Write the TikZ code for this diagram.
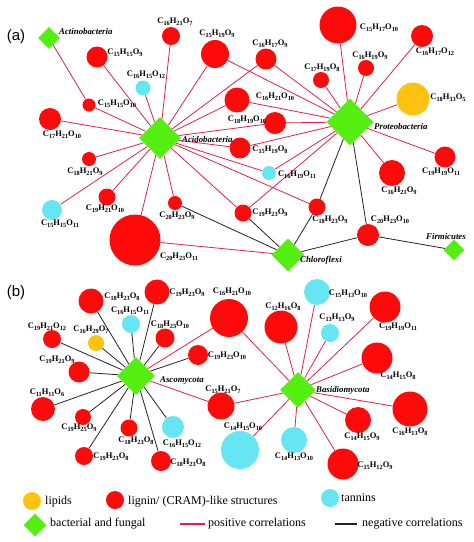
\documentclass[tikz,border=0pt]{standalone}
\usepackage{fontspec}
\setmainfont{Liberation Serif}
\newfontfamily\sansf{Liberation Sans}
\usetikzlibrary{shapes.geometric,backgrounds}
\definecolor{cred}{HTML}{FF0A0A}
\definecolor{ered}{HTML}{E0204A}
\definecolor{cgreen}{HTML}{55EE11}
\definecolor{ccyan}{HTML}{66E6F2}
\definecolor{corange}{HTML}{FFC20E}
\definecolor{eblack}{HTML}{222222}
\newcommand\subn[1]{\raisebox{-0.22em}{\fontsize{6.3}{7}\selectfont#1}}
\newcommand\cf[3]{C\subn{#1}H\subn{#2}O\subn{#3}}
\newcommand\mol[6]{\node[molc,fill=#4,minimum size=#3pt] (#1) at (#2) {};\node[lbl] at (#5) {\cf#6};}
\tikzset{
  molc/.style={circle,inner sep=0,draw=none},
  dia/.style={diamond,aspect=1,fill=cgreen,inner sep=0,draw=none},
  lbl/.style={font=\bfseries\fontsize{8.5}{9}\selectfont,inner sep=0},
  tax/.style={font=\bfseries\itshape\fontsize{8.8}{9}\selectfont,inner sep=0,anchor=west},
  leg/.style={font=\fontsize{12}{14}\selectfont,inner sep=0,anchor=west},
  pe/.style={ered,line width=0.8pt},
  ne/.style={eblack,line width=0.8pt},
  panel/.style={font=\sansf\fontsize{15}{16}\selectfont,inner sep=0}
}
\begin{document}
\begin{tikzpicture}[x=1pt,y=-1pt]
\useasboundingbox (0,0) rectangle (474,542);
\node[panel] (pa) at (16,37) {(a)};
\node[panel] (pb) at (16,293) {(b)};
% ---------- (a) taxa
\node[dia,minimum size=22pt] (actino) at (49,38) {};
\node[tax] (tactino) at (59,31) {Actinobacteria};
\node[dia,minimum size=42pt] (acido) at (160,138) {};
\node[tax] (tacido) at (182,139) {Acidobacteria};
\node[dia,minimum size=47pt] (proteo) at (350,122) {};
\node[tax] (tproteo) at (374,126) {Proteobacteria};
\node[dia,minimum size=33pt] (chloro) at (288,255) {};
\node[tax] (tchloro) at (300,260) {Chloroflexi};
\node[dia,minimum size=21pt] (firmi) at (454,250) {};
\node[tax,anchor=center] (tfirmi) at (446,236) {Firmicutes};
% ---------- (a) molecules
\mol{a1}{171,36}{18}{cred}{175,22}{{16}{21}{7}}
\mol{a2}{97,57}{21}{cred}{125,53}{{15}{15}{9}}
\mol{a3}{143,88}{15}{ccyan}{146,75}{{16}{15}{12}}
\mol{a4}{89,105}{13}{cred}{117,104}{{15}{15}{10}}
\mol{a5}{50,119}{22}{cred}{62,135}{{17}{21}{10}}
\mol{a6}{215,54}{28}{cred}{217,34}{{15}{19}{9}}
\mol{a7}{266,59}{21}{cred}{270,44}{{16}{17}{9}}
\mol{a8}{338,25}{37}{cred}{379,28}{{15}{17}{10}}
\mol{a9}{422,36}{22}{cred}{435,52}{{16}{17}{12}}
\mol{a10}{366,68}{16}{cred}{370,56}{{16}{19}{9}}
\mol{a11}{321,80}{16}{cred}{322,68}{{17}{19}{8}}
\mol{a12}{413,99}{33}{corange}{448,98}{{18}{33}{5}}
\mol{a13}{237,100}{25}{cred}{275,97}{{16}{21}{10}}
\mol{a14}{275,123}{22}{cred}{247,120}{{18}{19}{10}}
\mol{a15}{240,148}{21}{cred}{270,150}{{15}{19}{8}}
\mol{a16}{269,173}{14}{ccyan}{297,175}{{16}{19}{11}}
\mol{a17}{445,157}{21}{cred}{441,172}{{19}{19}{11}}
\mol{a18}{392,173}{26}{cred}{399,191}{{16}{21}{9}}
\mol{a19}{243,213}{17}{cred}{270,213}{{19}{23}{9}}
\mol{a20}{317,207}{17}{cred}{330,220}{{18}{23}{9}}
\mol{a21}{368,235}{22}{cred}{390,220}{{20}{23}{10}}
\mol{a22}{89,159}{14}{cred}{85,172}{{18}{21}{9}}
\mol{a23}{52,210}{20}{ccyan}{60,224}{{15}{15}{11}}
\mol{a24}{107,197}{17}{cred}{105,209}{{19}{21}{10}}
\mol{a25}{175,203}{14}{cred}{177,216}{{20}{23}{9}}
\mol{a26}{135,240}{51}{cred}{179,257}{{20}{23}{11}}
% ---------- (b) taxa
\node[dia,minimum size=38pt] (asco) at (136,376) {};
\node[tax] (tasco) at (160,381) {Ascomycota};
\node[dia,minimum size=36pt] (basid) at (298,390) {};
\node[tax] (tbasid) at (316,390) {Basidiomycota};
% ---------- (b) molecules
\mol{b1}{91,301}{25}{cred}{122,297}{{18}{23}{8}}
\mol{b2}{157,292}{25}{cred}{187,293}{{19}{23}{9}}
\mol{b3}{229,318}{38}{cred}{232,292}{{16}{21}{10}}
\mol{b4}{131,324}{18}{ccyan}{130,311}{{16}{15}{11}}
\mol{b5}{52,339}{18}{cred}{47,327}{{19}{21}{12}}
\mol{b6}{96,343}{16}{corange}{91,330}{{16}{29}{7}}
\mol{b7}{165,338}{19}{cred}{170,325}{{18}{23}{10}}
\mol{b8}{198,355}{20}{cred}{227,356}{{19}{23}{10}}
\mol{b9}{79,372}{21}{cred}{57,360}{{19}{21}{9}}
\mol{b10}{43,409}{24}{cred}{47,393}{{11}{11}{6}}
\mol{b11}{83,417}{16}{cred}{79,428}{{19}{25}{9}}
\mol{b12}{129,428}{17}{cred}{136,441}{{18}{23}{8}}
\mol{b13}{173,427}{22}{ccyan}{182,444}{{16}{15}{12}}
\mol{b14}{84,456}{18}{cred}{111,457}{{19}{23}{8}}
\mol{b15}{161,461}{20}{cred}{188,463}{{18}{23}{8}}
\mol{b16}{221,406}{27}{cred}{223,390}{{15}{21}{7}}
\mol{b17}{281,327}{33}{cred}{283,307}{{12}{16}{8}}
\mol{b18}{317,292}{26}{ccyan}{348,294}{{15}{13}{10}}
\mol{b19}{330,333}{18}{ccyan}{337,318}{{13}{13}{9}}
\mol{b20}{385,307}{31}{cred}{398,327}{{19}{19}{11}}
\mol{b21}{377,358}{31}{cred}{398,376}{{14}{15}{8}}
\mol{b22}{410,409}{35}{cred}{410,432}{{16}{13}{8}}
\mol{b23}{358,420}{26}{cred}{362,437}{{14}{15}{9}}
\mol{b24}{343,464}{31}{cred}{375,466}{{15}{12}{9}}
\mol{b25}{294,440}{26}{ccyan}{294,457}{{14}{13}{10}}
\mol{b26}{240,450}{38}{ccyan}{243,427}{{14}{15}{10}}
% ---------- edges
\begin{scope}[on background layer]
\foreach \n in {a1,a2,a3,a4,a5,a6,a7,a13,a14,a15,a16,a19,a20,a22,a23,a24,a25,a26}
  \draw[pe] (acido) -- (\n);
\draw[pe] (actino) -- (a4);
\foreach \n in {a6,a7,a8,a9,a10,a11,a12,a13,a14,a15,a16,a17,a18,a19}
  \draw[pe] (proteo) -- (\n);
\draw[pe] (chloro) -- (a26);
\foreach \n in {a25,a19,a20,a21}
  \draw[ne] (chloro) -- (\n);
\draw[ne] (proteo) -- (a20);
\draw[ne] (proteo) -- (a21);
\draw[ne] (firmi) -- (a21);
\foreach \n in {b1,b2,b4,b5,b6,b7,b8,b9,b10,b11,b12,b13,b14,b15}
  \draw[ne] (asco) -- (\n);
\draw[pe] (asco) -- (b3);
\draw[pe] (asco) -- (b16);
\foreach \n in {b3,b16,b17,b18,b19,b20,b21,b22,b23,b24,b25,b26}
  \draw[pe] (basid) -- (\n);
\end{scope}
% ---------- legend
\node[molc,fill=corange,minimum size=18pt] (lg1) at (32,501) {};
\node[leg] (tl1) at (45,502) {lipids};
\node[molc,fill=cred,minimum size=18pt] (lg2) at (115,500) {};
\node[leg] (tl2) at (128,502) {lignin/ (CRAM)-like structures};
\node[molc,fill=ccyan,minimum size=18pt] (lg3) at (330,498) {};
\node[leg] (tl3) at (341,498) {tannins};
\node[dia,minimum size=23pt] (lg4) at (35,525) {};
\node[leg] (tl4) at (50,524) {bacterial and fungal};
\coordinate (p1) at (180,524);
\coordinate (p2) at (205,524);
\draw[ered,line width=1.6pt] (p1) -- (p2);
\node[leg] (tl5) at (208,524) {positive correlations};
\coordinate (q1) at (335,524);
\coordinate (q2) at (357,524);
\draw[eblack,line width=1.6pt] (q1) -- (q2);
\node[leg] (tl6) at (362,524) {negative correlations};
\end{tikzpicture}
\end{document}
